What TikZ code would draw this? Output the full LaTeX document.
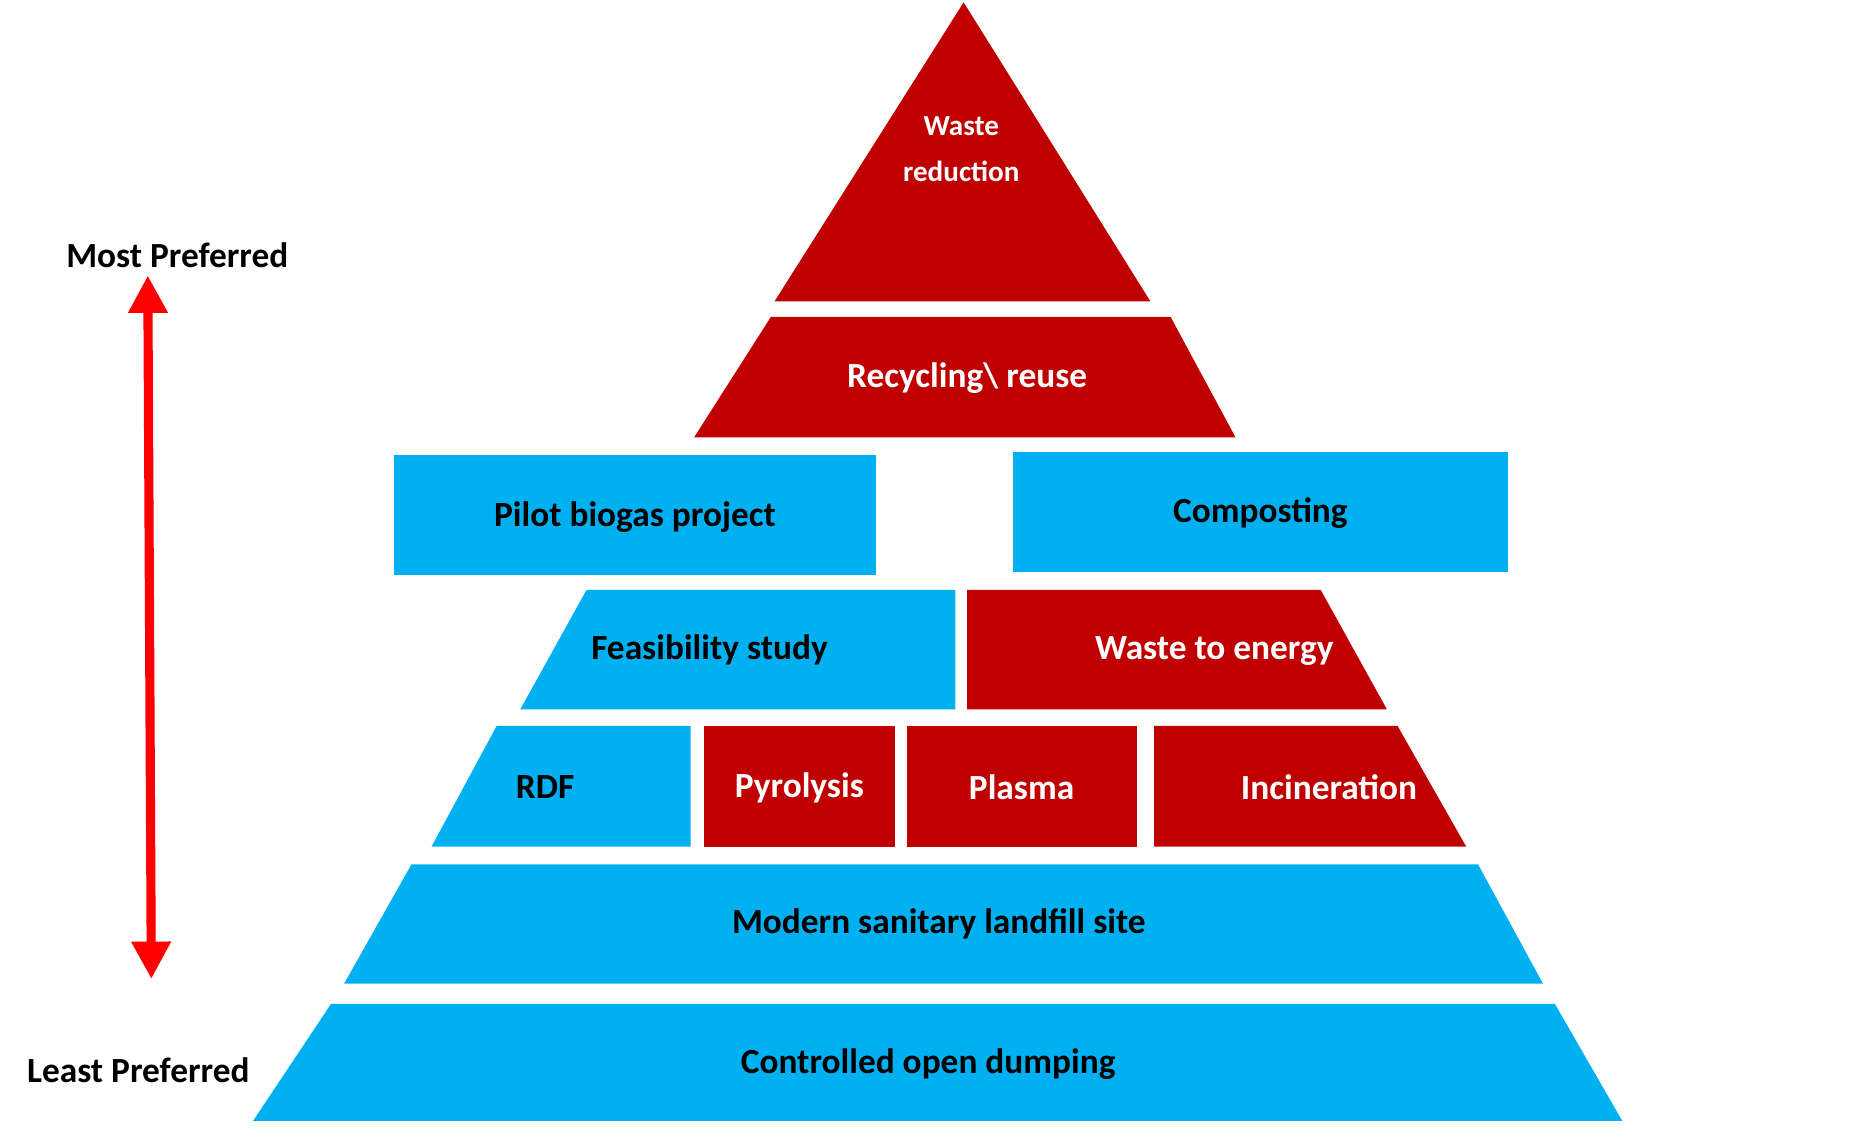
\documentclass[tikz,border=0pt]{standalone}
\usepackage{fontspec}
\usetikzlibrary{arrows.meta}
\setmainfont{Carlito}
\definecolor{pred}{HTML}{C00000}
\definecolor{pblue}{HTML}{00B0F0}
\begin{document}
\begin{tikzpicture}[x=0.01cm,y=-0.01cm,
  redp/.style={fill=pred,draw=none},
  bluep/.style={fill=pblue,draw=none},
  wt/.style={text=white,font=\bfseries\fontsize{8.5}{10}\selectfont},
  bt/.style={text=black,font=\bfseries\fontsize{8.5}{10}\selectfont}]
\useasboundingbox (0,0) rectangle (1568,968);
\fill[white] (0,0) rectangle (1568,968);
\fill[redp] (815,2) -- (973,255) -- (655,255) -- cycle;
\node[wt,font=\bfseries\fontsize{7}{11}\selectfont,align=center] (wr) at (813,126) {Waste\\reduction};
\fill[redp] (652,268) -- (990,268) -- (1045,370) -- (587,370) -- cycle;
\node[wt] (rr) at (818,320) {Recycling\textbackslash{} reuse};
\fill[bluep] (333,385) rectangle (741,486);
\node[bt] (pb) at (537,437) {Pilot biogas project};
\fill[bluep] (857,382) rectangle (1275,484);
\node[bt] (co) at (1066,434) {Composting};
\fill[bluep] (496,499) -- (808,499) -- (808,600) -- (440,600) -- cycle;
\node[bt] (fs) at (600,550) {Feasibility study};
\fill[redp] (818,499) -- (1117,499) -- (1173,600) -- (818,600) -- cycle;
\node[wt] (we) at (1027,551) {Waste to energy};
\fill[bluep] (420,614) -- (584,614) -- (584,716) -- (365,716) -- cycle;
\node[bt] (rdf) at (461,666) {RDF};
\fill[redp] (595,614) rectangle (757,716);
\node[wt] (py) at (676,666) {Pyrolysis};
\fill[redp] (767,614) rectangle (962,716);
\node[wt] (pl) at (864,666) {Plasma};
\fill[redp] (976,614) -- (1182,614) -- (1240,716) -- (976,716) -- cycle;
\node[wt] (in) at (1124,666) {Incineration};
\fill[bluep] (348,731) -- (1250,731) -- (1305,832) -- (291,832) -- cycle;
\node[bt] (ml) at (794,781) {Modern sanitary landfill site};
\fill[bluep] (280,849) -- (1315,849) -- (1372,948) -- (214,948) -- cycle;
\node[bt] (cd) at (785,900) {Controlled open dumping};
\node[bt] (mp) at (150,216) {Most Preferred};
\node[bt] (lp) at (117,905) {Least Preferred};
\coordinate (at) at (125,233);
\coordinate (ab) at (128,828);
\draw[red,line width=2.2pt,{Triangle[width=9pt,length=9pt]}-{Triangle[width=9pt,length=9pt]}] (at) -- (ab);
\end{tikzpicture}
\end{document}
